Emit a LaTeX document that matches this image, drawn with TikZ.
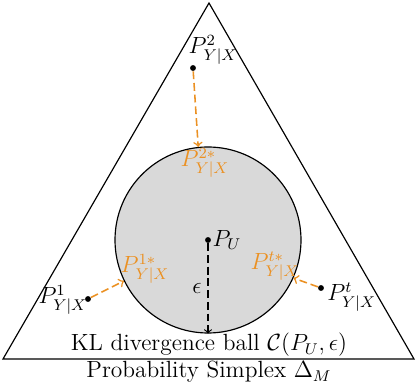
\documentclass[tikz,border=0pt]{standalone}
\usepackage{amsmath}
\definecolor{projorange}{RGB}{235,145,35}
\tikzset{
  dotpt/.style={circle, fill, inner sep=0pt, minimum size=3pt},
  proj/.style={->, projorange, thick, dash pattern=on 4pt off 2pt},
}
\begin{document}
\begin{tikzpicture}[font=\large]
    \useasboundingbox (0,0) rectangle (7.542,6.912);

    % 概率单纯形
    \draw[semithick] (0.054,0.45) -- (7.452,0.45) -- (3.762,6.858) -- cycle;
    \node (simplex) at (3.762,0.216) {Probability Simplex $\Delta_M$};

    % KL 球
    \node[circle, draw, semithick, fill=gray!30, minimum size=3.348cm, inner sep=0pt] (ball) at (3.744,2.592) {};
    \node (kl) at (3.762,0.702) {KL divergence ball $\mathcal{C}(P_U,\epsilon)$};

    % 中心 P_U 与半径
    \node[dotpt] (pu) at (ball.center) {};
    \node[anchor=west, inner sep=0.5pt] (pulab) at (pu.east) {$P_U$};
    \draw[->, semithick, dash pattern=on 4pt off 2pt] (pu) -- (ball.south);
    \node (eps) at (3.546,1.728) {$\epsilon$};

    % 外部分布
    \node[dotpt] (p2) at (3.474,5.688) {};
    \node[dotpt] (p1) at (1.584,1.530) {};
    \node[dotpt] (pt) at (5.778,1.728) {};
    \node (p2lab) at (3.834,6.012) {$P^2_{Y|X}$};
    \node (p1lab) at (1.130,1.512) {$P^1_{Y|X}$};
    \node (ptlab) at (6.330,1.566) {$P^t_{Y|X}$};

    % 投影到球面
    \draw[proj] (p2) -- (ball.96);
    \draw[proj] (p1) -- (ball.206);
    \draw[proj] (pt) -- (ball.336);
    \node[projorange] (p2star) at (3.690,3.980) {$P^{2*}_{Y|X}$};
    \node[projorange] (p1star) at (2.610,2.070) {$P^{1*}_{Y|X}$};
    \node[projorange] (ptstar) at (4.950,2.124) {$P^{t*}_{Y|X}$};
\end{tikzpicture}
\end{document}
